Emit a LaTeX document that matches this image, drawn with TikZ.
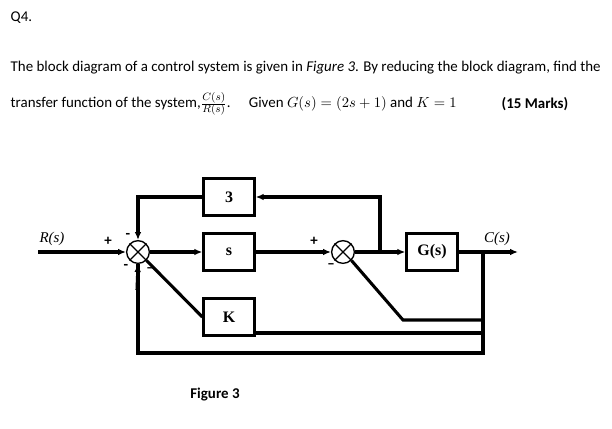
\documentclass[tikz,border=0pt]{standalone}
\usepackage{fontspec}
\setmainfont{Carlito}
\newfontfamily\serifb{Liberation Serif}
\usetikzlibrary{arrows.meta}
\newcommand{\txt}{\fontsize{11.2}{13}\selectfont}
\begin{document}
\begin{tikzpicture}[x=0.75pt,y=-0.75pt,
  blk/.style={draw,line width=2pt,minimum width=38pt,minimum height=28pt,inner sep=0pt,font=\serifb\bfseries\fontsize{12}{14}\selectfont},
  sum/.style={draw,circle,line width=1pt,minimum size=17pt,inner sep=0pt},
  ln/.style={line width=2.3pt},
  ar/.style={ln,-{Latex[length=6pt,width=5pt]}},
  sg/.style={font=\bfseries\txt,inner sep=0pt}]
\useasboundingbox (0,0) rectangle (612,429);
\node[anchor=west,font=\txt] (q) at (6,18) {Q4.};
\node[anchor=west,font=\txt] (l1) at (6,68) {The block diagram of a control system is given in \textit{Figure 3}. By reducing the block diagram, find the};
\node[anchor=west,font=\txt] (l2) at (6,104) {transfer function of the system,$\frac{C(s)}{R(s)}$.\quad\ Given $G(s)=(2s+1)$ and $K=1$};
\node[anchor=west,font=\txt\bfseries] (mk) at (497,104) {(15 Marks)};
\node[blk] (b3) at (229,197) {3};
\node[blk] (bs) at (229,252) {s};
\node[blk] (bk) at (229,317) {K};
\node[blk] (bg) at (432,252) {G(s)};
\node[sum] (s1) at (138,252) {};
\node[sum] (s2) at (343,252) {};
\draw[line width=1pt] (s1.north west)--(s1.south east) (s1.north east)--(s1.south west);
\draw[line width=1pt] (s2.north west)--(s2.south east) (s2.north east)--(s2.south west);
\coordinate (rin) at (38,252);
\coordinate (cout) at (518,252);
\coordinate (br) at (483,252);
\coordinate (fb3) at (380,252);
\coordinate (kin) at (403,320);
\node[font=\serifb\itshape\txt] (rs) at (52,239) {R(s)};
\node[font=\serifb\itshape\txt] (cs) at (497,239) {C(s)};
\draw[ar] (rin)--(s1);
\draw[ar] (s1)--(bs);
\draw[ar] (bs)--(s2);
\draw[ar] (s2)--(bg);
\draw[ar] (bg)--(cout);
\draw[ar] (fb3)|-(b3.east);
\draw[ar] (b3.west)-|(s1.north);
\draw[ln] (br)--(483,353)-|(s1.south);
\draw[ar] (137,290)--(s1.south);
\draw[ln] (483,333)--(bk.east|-0,333);
\draw[ln] (bk.west)--(s1.south east);
\draw[ln] (483,320)--(kin)--(s2.south east);
\node[sg] (p1) at (108,241) {+};
\node[sg] (m1) at (128,236) {-};
\node[sg] (m2) at (126,267) {-};
\node[sg] (m3) at (150,270) {–};
\node[sg] (p2) at (314,241) {+};
\node[sg] (m4) at (331,266) {–};
\node[font=\txt\bfseries] (fig) at (215,395) {Figure 3};
\end{tikzpicture}
\end{document}
